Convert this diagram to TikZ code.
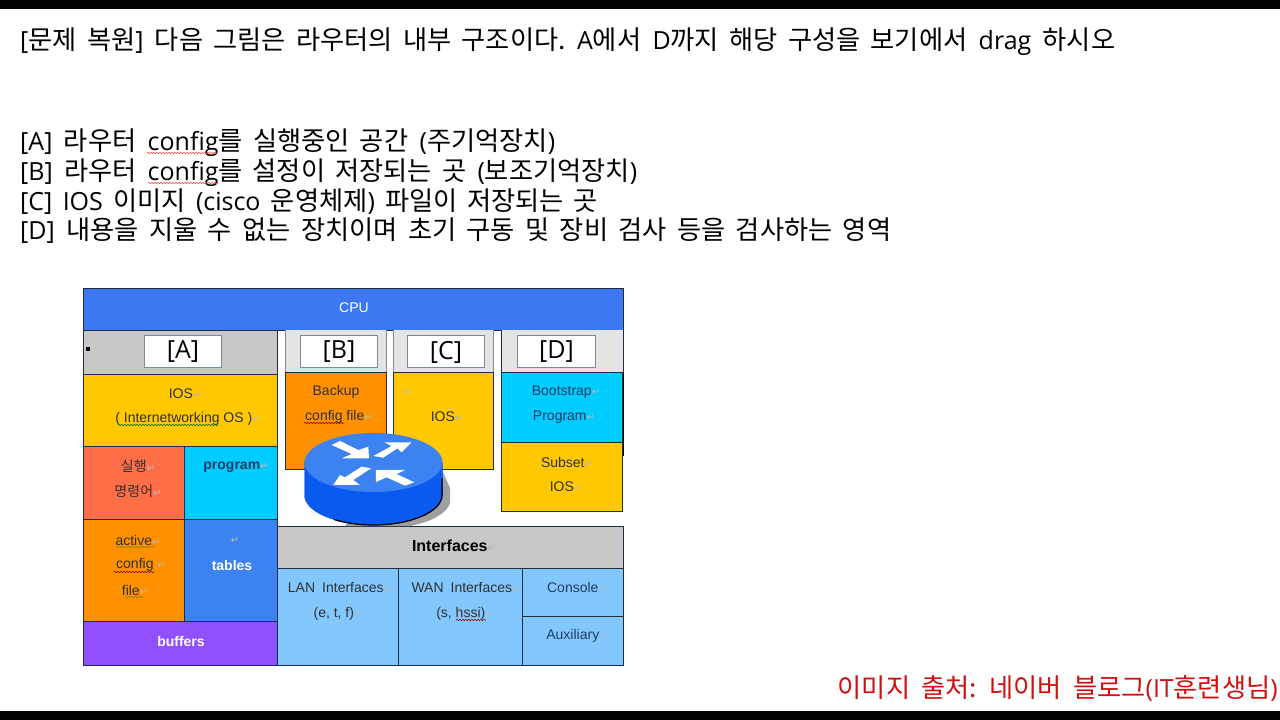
\documentclass[tikz,border=0pt]{standalone}
\usepackage{fontspec}
\usetikzlibrary{decorations.pathmorphing}
\setmainfont{Open Sans}
\newfontfamily\kofont[Scale=1.05]{Noto Sans CJK KR}
\newfontfamily\kolab{Noto Sans CJK KR}
\newfontfamily\arialfont{Liberation Sans}
\newfontfamily\dejafont{DejaVu Sans}
\newcommand{\ko}[1]{{\kofont #1}}
\newcommand{\rt}{{\dejafont\fontsize{10}{10}\selectfont\textcolor{gray!55}{↵}}}
\definecolor{edgec}{HTML}{1E2D46}
\definecolor{tagc}{HTML}{7A8A9C}
\definecolor{sidec}{HTML}{8A8A8A}
\definecolor{cpuc}{HTML}{3C78F0}
\definecolor{grayc}{HTML}{C8C8C8}
\definecolor{headc}{HTML}{E4E4E4}
\definecolor{yelc}{HTML}{FFC800}
\definecolor{redc}{HTML}{FF6E46}
\definecolor{cyanc}{HTML}{00CCFF}
\definecolor{orc}{HTML}{FF9100}
\definecolor{tabc}{HTML}{3C82F0}
\definecolor{purc}{HTML}{9150FF}
\definecolor{lanc}{HTML}{82C8FF}
\definecolor{txtc}{HTML}{303030}
\definecolor{navc}{HTML}{1E3C64}
\definecolor{routc}{HTML}{3C82F0}
\definecolor{rsidc}{HTML}{0A5AF0}
\definecolor{credit}{HTML}{D01010}
\tikzset{
  cell/.style={draw=edgec,line width=0.9pt,inner sep=0pt,outer sep=0pt},
  tagbox/.style={cell,draw=tagc,fill=white},
  lab/.style={inner sep=0pt,yshift=-2pt,font=\arialfont\fontsize{14}{14}\selectfont,text=txtc},
  navlab/.style={lab,text=navc},
  boldlab/.style={lab,font=\arialfont\bfseries\fontsize{14}{14}\selectfont},
  whitelab/.style={boldlab,text=white},
  hanlab/.style={lab,font=\kolab\fontsize{14}{14}\selectfont},
  taglab/.style={inner sep=0pt,yshift=-1pt,font=\fontsize{25}{25}\selectfont,text=black},
  qline/.style={inner sep=0pt,anchor=base west,font=\fontsize{25}{30}\selectfont,text=black},
  wav/.style={decorate,decoration={snake,amplitude=0.7pt,segment length=3pt},line width=0.6pt}
}
\newcommand{\bx}[6]{%
  \pgfmathsetmacro{\bxw}{#4-#2}\pgfmathsetmacro{\bxh}{#5-#3}%
  \pgfmathsetmacro{\bxx}{(#4+#2)/2-0.5}\pgfmathsetmacro{\bxy}{(#5+#3)/2}%
  \node[cell,#6,minimum width=\bxw pt,minimum height=\bxh pt] (#1) at (\bxx,\bxy) {};}
\newcommand{\fitl}[2]{\makebox[#1pt][s]{#2}}
\begin{document}
\frenchspacing
\begin{tikzpicture}[x=1pt,y=-1pt]
\useasboundingbox (0,0) rectangle (1280,720);
\fill[white] (0,0) rectangle (1280,720);
\fill[black] (0,0) rectangle (1280,9);
\fill[black] (0,711) rectangle (1280,720);
% question text
\node[qline] (q0) at (20,49) {\fitl{1095}{[\ko{문제 복원}] \ko{다음 그림은 라우터의 내부 구조이다.} A\ko{에서} D\ko{까지 해당 구성을 보기에서} drag \ko{하시오}}};
\node[qline] (qa) at (20,150) {\fitl{535}{[A] \ko{라우터} config\ko{를 실행중인 공간} (\ko{주기억장치})}};
\node[qline] (qb) at (20,180) {\fitl{617}{[B] \ko{라우터} config\ko{를 설정이 저장되는 곳} (\ko{보조기억장치})}};
\node[qline] (qc) at (20,210) {\fitl{577}{[C] IOS \ko{이미지} (cisco \ko{운영체제}) \ko{파일이 저장되는 곳}}};
\node[qline] (qd) at (20,239) {\fitl{871}{[D] \ko{내용을 지울 수 없는 장치이며 초기 구동 및 장비 검사 등을 검사하는 영역}}};
\draw[wav,red!70] (147,153) -- (217,153);
\draw[wav,red!70] (148,183) -- (218,183);
\node[qline,text=credit,anchor=base east] (src) at (1278,697) {\fitl{440}{\ko{이미지 출처:} \ko{네이버 블로그}(IT\ko{훈련생님})}};
% cells
\bx{cpu}{84}{288}{624}{330}{fill=cpuc}
\bx{ahead}{84}{330}{278}{374}{fill=grayc}
\bx{ios}{84}{374}{278}{446}{fill=yelc}
\bx{exec}{84}{446}{185}{519}{fill=redc}
\bx{prog}{185}{446}{278}{519}{fill=cyanc}
\bx{active}{84}{519}{185}{621}{fill=orc}
\bx{tables}{185}{519}{278}{621}{fill=tabc}
\bx{buf}{84}{621}{278}{665}{fill=purc}
\bx{bhead}{286}{330}{387}{372}{fill=headc,draw=none}
\bx{bbody}{286}{372}{387}{469.5}{fill=orc}
\bx{chead}{394}{330}{494}{372}{fill=headc,draw=none}
\bx{cbody}{394}{372}{494}{469.5}{fill=yelc}
\bx{dhead}{502}{330}{624}{372}{fill=headc,draw=none}
\bx{dboot}{502}{372}{623}{442}{fill=cyanc}
\bx{dsub}{502}{442}{623}{511}{fill=yelc}
\bx{ifhead}{278}{526}{624}{568}{fill=grayc}
\bx{lan}{278}{568}{399}{665}{fill=lanc}
\bx{wan}{399}{568}{523}{665}{fill=lanc}
\bx{con}{523}{568}{624}{616}{fill=lanc}
\bx{aux}{523}{616}{624}{665}{fill=lanc}
\draw[sidec,line width=0.8pt] (bhead.north east) -- (bhead.south east) (chead.north west) -- (chead.south west) (chead.north east) -- (chead.south east) (bhead.north west) -- (bhead.south west);
\draw[edgec,line width=0.9pt] (dhead.north west) -- (dhead.south west) (dhead.north east) -- (dhead.south east);
\draw[black,line width=0.9pt] (623.5,372) -- (623.5,456);
\fill[black] (86,347) rectangle (90,351);
% tag boxes
\bx{ta}{145}{335}{222}{367}{tagbox}
\bx{tb}{301}{335}{378}{367}{tagbox}
\bx{tc}{408}{335}{485}{367}{tagbox}
\bx{td}{518}{335}{596}{367}{tagbox}
\node[taglab] at (ta) {[A]};
\node[taglab] at (tb) {[B]};
\node[taglab] at (tc) {[C]};
\node[taglab] at (td) {[D]};
% labels
\node[whitelab,font=\arialfont\fontsize{14}{14}\selectfont] (lcpu) at (354,305.5) {CPU};
\node[lab] (l1) at (185,392) {IOS\rt};
\node[lab] (l2) at (188,417) {( Internetworking OS )\rt};
\node[hanlab] (l3) at (138,464) {실행\rt};
\node[hanlab] (l4) at (138,489) {명령어\rt};
\node[boldlab,text=navc] (l5) at (236,465) {program\rt};
\node[lab] (l6) at (138,538) {active\rt};
\node[lab] (l7) at (141,563) {config \rt};
\node[lab] (l8) at (135,588) {file\rt};
\node[lab] (l9) at (235,538) {\rt};
\node[whitelab] (l10) at (232,563) {tables};
\node[whitelab] (l11) at (181,639) {buffers};
\node[lab] (l12) at (336,390) {Backup};
\node[lab] (l13) at (339,415) {config file\rt};
\node[lab] (l14) at (407,390) {\rt};
\node[lab] (l15) at (447,415) {IOS\rt};
\node[navlab] (l16) at (566,390) {Bootstrap\rt};
\node[navlab] (l17) at (564,415) {Program\rt};
\node[lab] (l18) at (567,460) {Subset\rt};
\node[lab] (l19) at (566,485) {IOS\rt};
\node[boldlab,text=black,font=\arialfont\bfseries\fontsize{16}{16}\selectfont] (l20) at (454,544) {Interfaces\rt};
\node[lab] (l21) at (340,585.5) {LAN\enspace Interfaces\rt};
\node[lab] (l22) at (338,612) {(e, t, f)\rt};
\node[lab] (l23) at (466,585.5) {WAN\enspace Interfaces\rt};
\node[lab] (l24) at (465,612) {(s, hssi)\rt};
\node[navlab] (l25) at (577,585.5) {Console\rt};
\node[navlab] (l26) at (577,634) {Auxiliary\rt};
% wavy underlines
\draw[wav,green!45!black] (118,425) -- (218,425);
\draw[wav,olive] (116,547) -- (154,547);
\draw[wav,red!60!black] (114,572) -- (154,572);
\draw[wav,olive] (125,597) -- (144,597);
\draw[wav,red!60!black] (304,423) -- (344,423);
\draw[wav,red!60!black] (456,620) -- (486,620);
% router
\fill[gray!75] (345,526) -- (410,526) .. controls (432,522) and (448,512) .. (450,503) -- (450,488) -- (442,470) -- (400,470) -- cycle;
\draw[fill=rsidc,draw=rsidc] (304.5,462) -- (304.5,495) arc[start angle=180,end angle=360,x radius=69,y radius=-30] -- (442.5,462) -- cycle;
\draw[black,line width=1.2pt] (442,478) -- (442,495) arc[start angle=360,end angle=235,x radius=68.5,y radius=-30];
\fill[routc] (373.5,462.5) ellipse[x radius=69,y radius=29.5];
\begin{scope}[shift={(290,420)},x=0.3333pt,y=-0.3333pt]
\fill[white] (125,75) -- (150,63) -- (205,90) -- (235,80) -- (237,115) -- (155,115) -- (185,102) -- cycle;
\fill[white] (250,108) -- (305,78) -- (283,67) -- (365,67) -- (335,97) -- (322,85) -- (280,113) -- cycle;
\fill[white] (243,145) -- (215,140) -- (165,172) -- (150,165) -- (130,195) -- (210,195) -- (190,180) -- cycle;
\fill[white] (258,150) -- (345,150) -- (320,162) -- (373,187) -- (345,197) -- (290,172) -- (258,186) -- cycle;
\end{scope}
\end{tikzpicture}
\end{document}
